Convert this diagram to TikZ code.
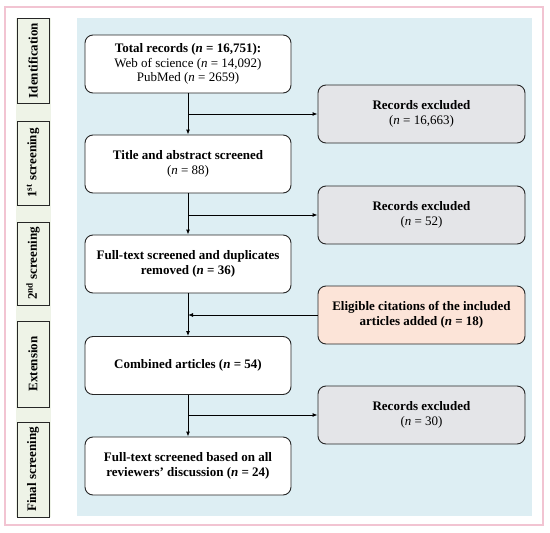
\documentclass[tikz,border=0pt]{standalone}
\usepackage{fontspec}
\setmainfont{Liberation Serif}
\usetikzlibrary{arrows.meta}
\definecolor{framepink}{HTML}{F2C4D2}
\definecolor{bgblue}{HTML}{DDEEF3}
\definecolor{stagegreen}{HTML}{EEF3E7}
\definecolor{exgray}{HTML}{E4E5E8}
\definecolor{addorange}{HTML}{FCE4D8}
\begin{document}
\begin{tikzpicture}[x=1pt,y=-1pt,
  font=\fontsize{13}{14.8}\selectfont,
  box/.style={draw=black!85,line width=0.9pt,rounded corners=8pt,align=center,minimum height=58pt,inner sep=2pt},
  mainbox/.style={box,fill=white,minimum width=206pt},
  exbox/.style={box,fill=exgray,minimum width=207pt},
  addbox/.style={box,fill=addorange,minimum width=207pt},
  boldtext/.style={font=\fontsize{13}{14.8}\selectfont\bfseries},
  stagebox/.style={draw=black!85,line width=0.9pt,fill=stagegreen,minimum height=32pt,rotate=90,inner sep=1pt,font=\fontsize{13}{14}\selectfont\bfseries},
  arr/.style={-{Latex[length=5pt,width=4pt]},line width=0.9pt}]
\useasboundingbox (0,0) rectangle (550,533);
\draw[framepink,line width=1.5pt] (5,7) rectangle (543,525);
\fill[bgblue] (77,18) rectangle (532,516);
\fill[stagegreen] (16,18) rectangle (51,517);

% stages
\path (33,60.5) node[stagebox,minimum width=85pt] (s1) {Identification};
\path (33,163) node[stagebox,minimum width=84pt] (s2) {1\textsuperscript{st} screening};
\path (33,263.5) node[stagebox,minimum width=83pt] (s3) {2\textsuperscript{nd} screening};
\path (33,364) node[stagebox,minimum width=86pt] (s4) {Extension};
\path (33,469.5) node[stagebox,minimum width=95pt] (s5) {Final screening};

% main column
\path (188,64) node[mainbox] (total) {\textbf{Total records (\textit{n} = 16,751):}\\Web of science (\textit{n} = 14,092)\\PubMed (\textit{n} = 2659)};
\path (188,164) node[mainbox] (title) {\textbf{Title and abstract screened}\\(\textit{n} = 88)};
\path (188,264) node[mainbox,boldtext] (full) {Full-text screened and duplicates\\removed (\textit{n} = 36)};
\path (188,365.5) node[mainbox,boldtext] (comb) {Combined articles (\textit{n} = 54)};
\path (188,466) node[mainbox,boldtext] (final) {Full-text screened based on all\\reviewers’ discussion (\textit{n} = 24)};

% right column
\path (421.5,114) node[exbox] (ex1) {\textbf{Records excluded}\\(\textit{n} = 16,663)};
\path (421.5,215) node[exbox] (ex2) {\textbf{Records excluded}\\(\textit{n} = 52)};
\path (421.5,315) node[addbox,boldtext] (add) {Eligible citations of the included\\articles added (\textit{n} = 18)};
\path (421.5,415) node[exbox] (ex3) {\textbf{Records excluded}\\(\textit{n} = 30)};

\draw[arr] (total) -- (title);
\draw[arr] (total.south |- ex1.west) -- (ex1);
\draw[arr] (title) -- (full);
\draw[arr] (title.south |- ex2.west) -- (ex2);
\draw[arr] (full) -- (comb);
\draw[arr] (add) -- (full.south |- add.west);
\draw[arr] (comb) -- (final);
\draw[arr] (comb.south |- ex3.west) -- (ex3);
\end{tikzpicture}
\end{document}
